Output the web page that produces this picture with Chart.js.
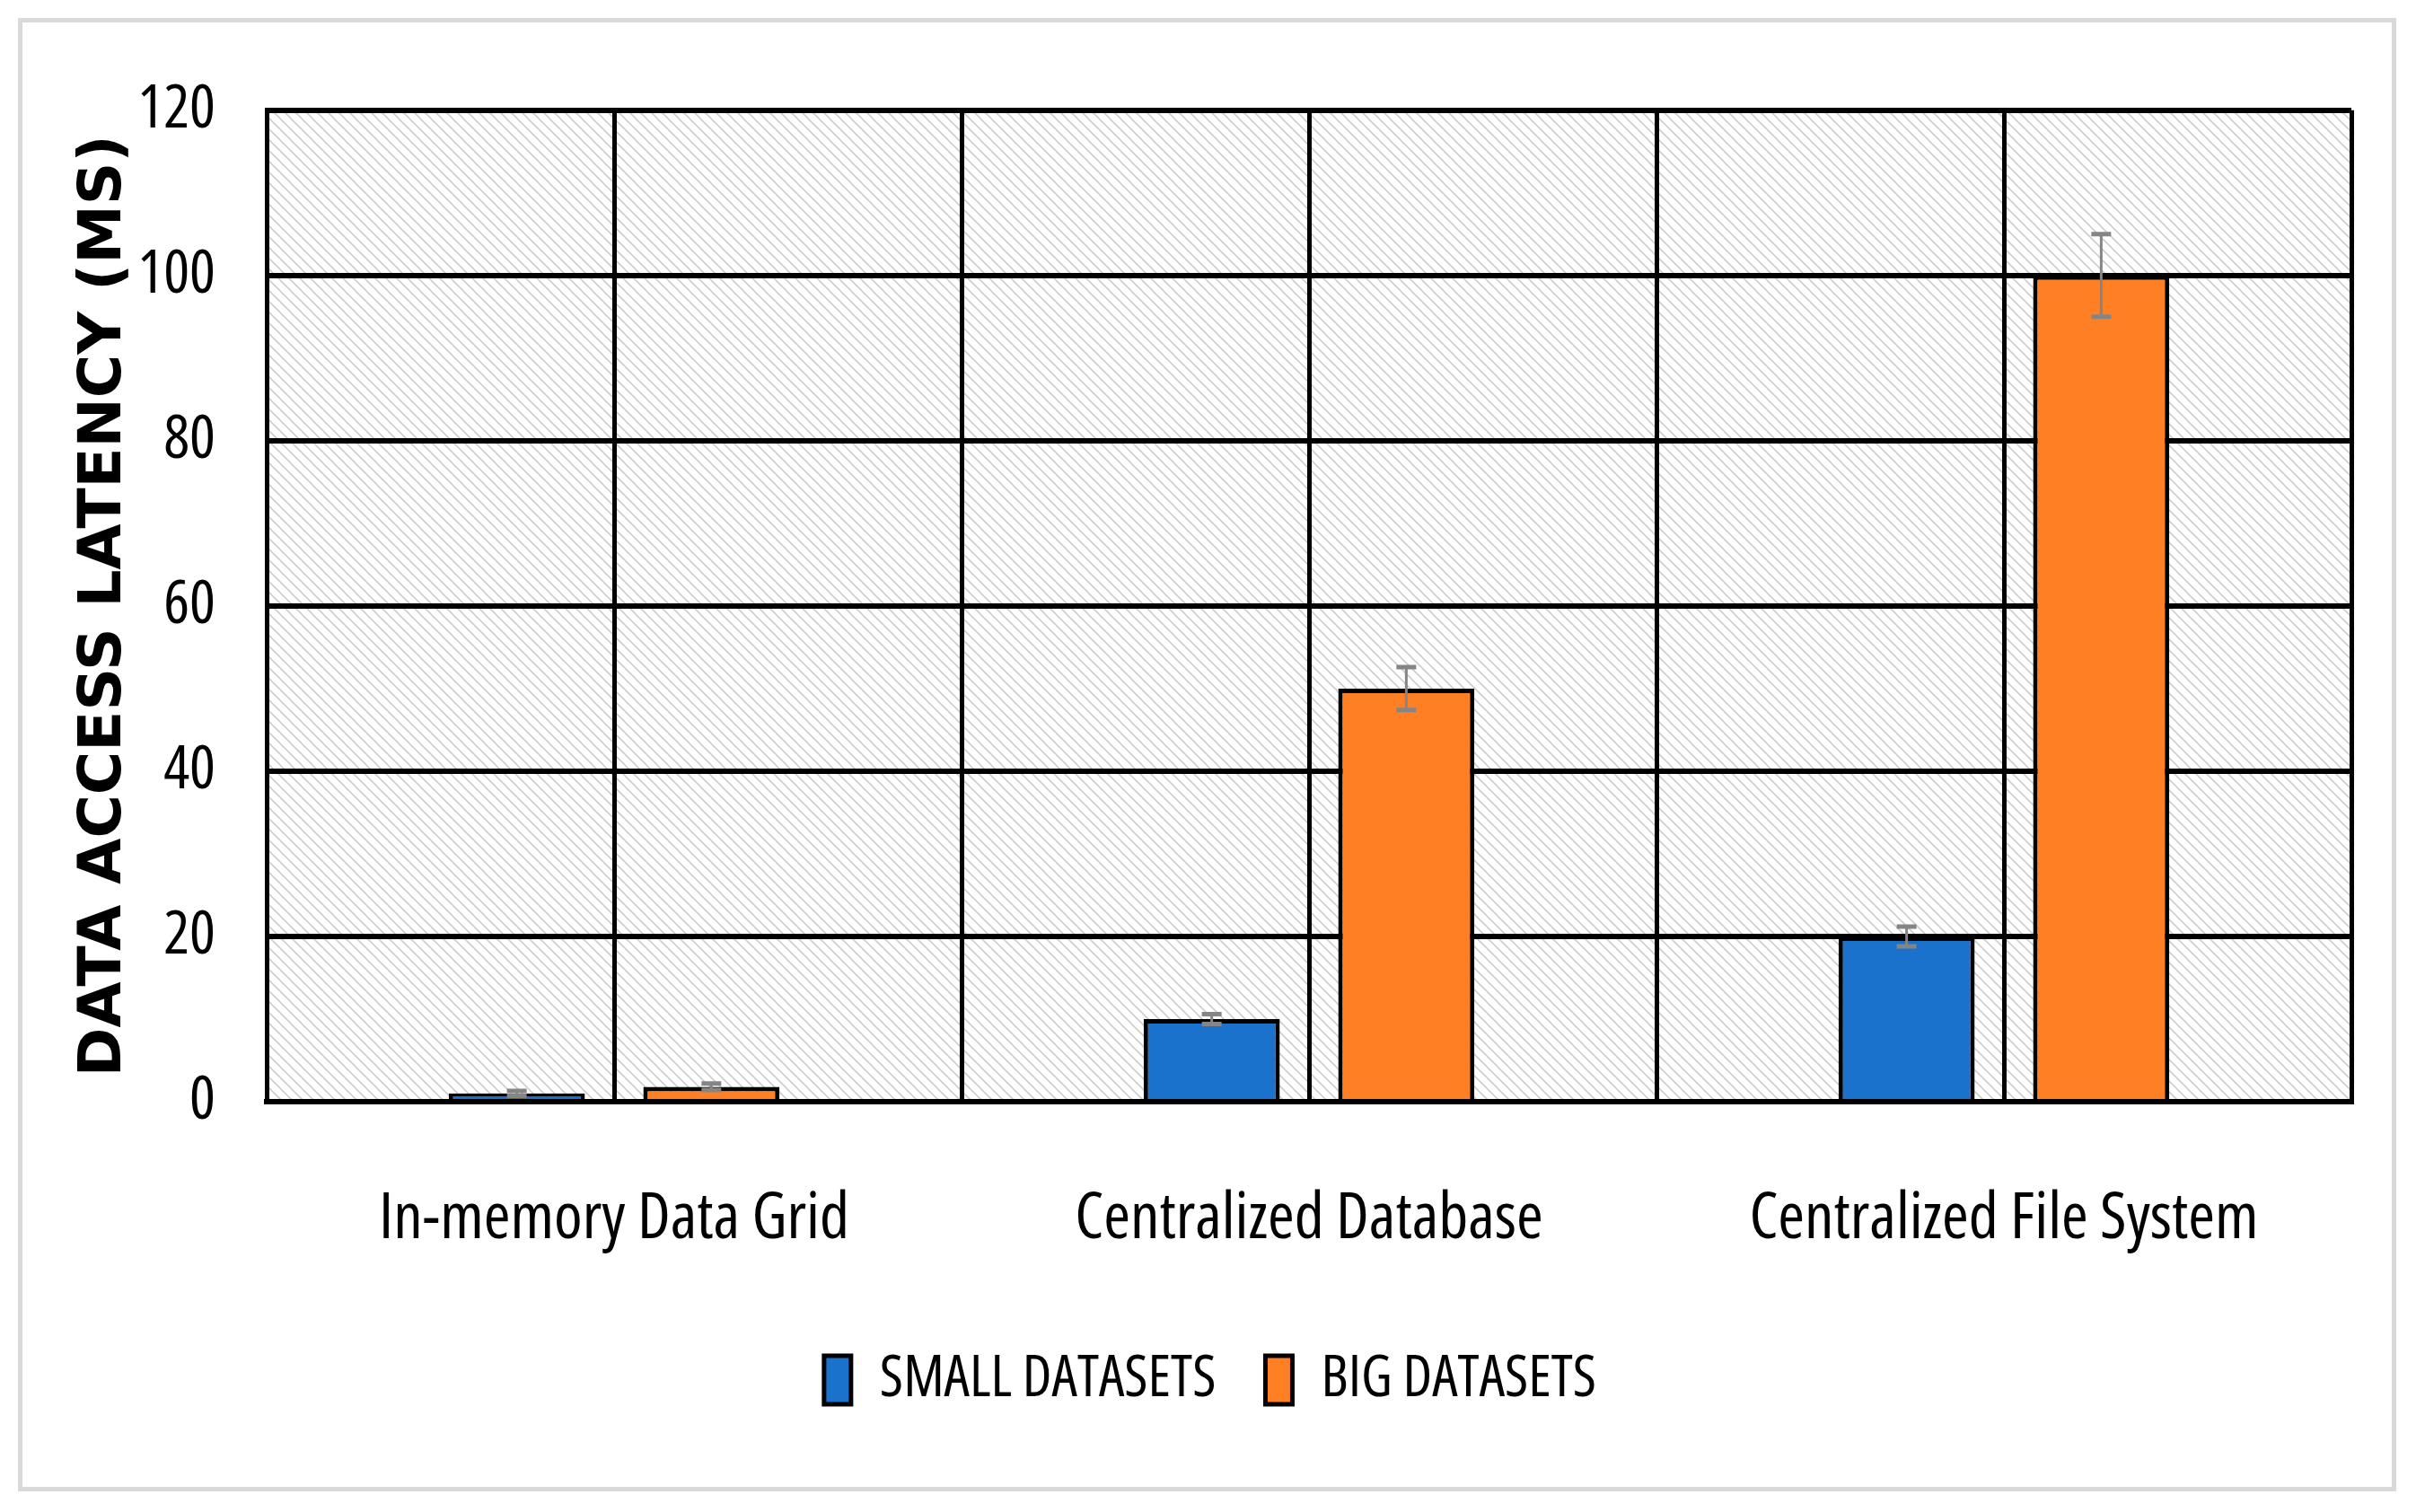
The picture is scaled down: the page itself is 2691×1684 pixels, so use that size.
<!DOCTYPE html>
<html>
<head>
<meta charset="utf-8">
<script src="https://cdn.jsdelivr.net/npm/chart.js@4.4.1/dist/chart.umd.min.js"></script>
<style>
  html, body { margin: 0; padding: 0; background: #fff; }
  .frame {
    position: absolute; left: 20px; top: 20px;
    width: 2649px; height: 1641px;
    box-sizing: border-box;
    border: 5px solid #d9d9d9;
  }
  .chart { position: relative; width: 2639px; height: 1631px; }
</style>
</head>
<body>
<div class="frame"><div class="chart"><canvas id="c"></canvas></div></div>
<script>
const categories = ['In-memory Data Grid', 'Centralized Database', 'Centralized File System'];
const smallValues = [1.0, 10, 20];
const smallErrors = [0.3, 0.6, 1.2];
const bigValues = [1.8, 50, 100];
const bigErrors = [0.4, 2.6, 5];
const yTicks = [0, 20, 40, 60, 80, 100, 120];

// condensed Open Sans comes through the weight slot of the font string
const narrow = (size) => ({ family: "'Open Sans', sans-serif", weight: 'condensed', size: size });

// light diagonal hatching behind the plot
function makeHatch() {
  const s = 12;
  const tile = document.createElement('canvas');
  tile.width = s; tile.height = s;
  const t = tile.getContext('2d');
  t.fillStyle = '#ffffff';
  t.fillRect(0, 0, s, s);
  t.strokeStyle = '#cdcdcd';
  t.lineWidth = 1.6;
  t.beginPath();
  t.moveTo(0, 0); t.lineTo(s, s);
  t.moveTo(-2, s - 2); t.lineTo(2, s + 2);
  t.moveTo(s - 2, -2); t.lineTo(s + 2, 2);
  t.stroke();
  return t.createPattern(tile, 'repeat');
}

const hatchPlugin = {
  id: 'hatch',
  beforeDraw(chart) {
    const {ctx, chartArea: a} = chart;
    ctx.save();
    ctx.fillStyle = makeHatch();
    ctx.fillRect(a.left, a.top, a.right - a.left, a.bottom - a.top);
    ctx.restore();
  }
};

const errorBarPlugin = {
  id: 'errorBars',
  afterDatasetsDraw(chart) {
    const {ctx} = chart;
    const y = chart.scales.y;
    chart.data.datasets.forEach((ds, i) => {
      const meta = chart.getDatasetMeta(i);
      meta.data.forEach((bar, j) => {
        const v = ds.data[j], e = ds.errors[j];
        const top = y.getPixelForValue(v + e);
        const bot = y.getPixelForValue(v - e);
        ctx.save();
        ctx.strokeStyle = '#858585';
        ctx.lineWidth = 3;
        ctx.beginPath();
        ctx.moveTo(bar.x, top); ctx.lineTo(bar.x, bot);
        ctx.stroke();
        ctx.lineWidth = 5;
        ctx.beginPath();
        ctx.moveTo(bar.x - 11, top); ctx.lineTo(bar.x + 11, top);
        ctx.moveTo(bar.x - 11, bot); ctx.lineTo(bar.x + 11, bot);
        ctx.stroke();
        ctx.restore();
      });
    });
  }
};

new Chart(document.getElementById('c'), {
  type: 'bar',
  data: {
    labels: categories,
    datasets: [
      {
        label: 'SMALL DATASETS',
        data: smallValues,
        errors: smallErrors,
        backgroundColor: '#1b72cc',
        borderColor: '#000',
        borderWidth: 5,
        barPercentage: 0.7,
        categoryPercentage: 0.56
      },
      {
        label: 'BIG DATASETS',
        data: bigValues,
        errors: bigErrors,
        backgroundColor: '#ff7f24',
        borderColor: '#000',
        borderWidth: 5,
        barPercentage: 0.7,
        categoryPercentage: 0.56
      }
    ]
  },
  plugins: [hatchPlugin, errorBarPlugin],
  options: {
    responsive: true,
    maintainAspectRatio: false,
    animation: false,
    events: [],
    layout: { padding: { left: 52, right: 45, top: 89, bottom: 77 } },
    plugins: {
      tooltip: { enabled: false },
      legend: {
        position: 'bottom',
        labels: {
          color: '#000',
          boxWidth: 30,
          boxHeight: 54,
          padding: 55,
          font: narrow(64)
        }
      }
    },
    scales: {
      x: {
        grid: { color: '#000', lineWidth: 5, drawTicks: false },
        border: { color: '#000', width: 6 },
        ticks: { color: '#000', padding: 88, font: narrow(72) },
        afterFit(scale) { scale.height = 223; }
      },
      x2: {
        type: 'category',
        position: 'top',
        offset: true,
        grid: { color: '#000', lineWidth: 5, drawTicks: false, offset: false },
        border: { display: false },
        ticks: { display: false }
      },
      y: {
        min: 0,
        max: 120,
        afterBuildTicks(scale) { scale.ticks = yTicks.map(v => ({ value: v })); },
        afterFit(scale) { scale.width = 220; },
        grid: { color: '#000', lineWidth: 6, drawTicks: false },
        border: { color: '#000', width: 5 },
        ticks: { color: '#000', padding: 57, font: narrow(68) },
        title: {
          display: true,
          text: 'DATA ACCESS LATENCY (MS)',
          color: '#000',
          padding: 0,
          font: { family: "'DejaVu Sans', sans-serif", size: 66, weight: 'bold' }
        }
      }
    }
  }
});
</script>
</body>
</html>
